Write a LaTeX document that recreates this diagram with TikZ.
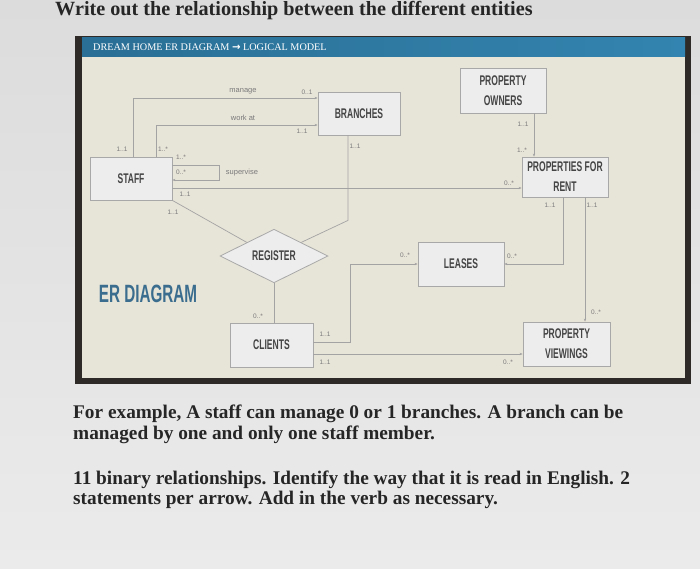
\documentclass[tikz,border=0pt]{standalone}
\usepackage{fontspec}
\setmainfont{Liberation Serif}
\newfontfamily\condfont[FakeStretch=0.61]{Liberation Sans}
\newfontfamily\labfont{Liberation Sans}
\newfontfamily\symfont{DejaVu Sans}
\usetikzlibrary{shapes.geometric,arrows.meta,calc}

\definecolor{pagetop}{HTML}{DCDCDC}
\definecolor{pagebottom}{HTML}{EBEBEB}
\definecolor{framedark}{HTML}{2E2A28}
\definecolor{slidebg}{HTML}{E7E4D8}
\definecolor{headleft}{HTML}{2A6F95}
\definecolor{headright}{HTML}{3384B0}
\definecolor{boxfill}{HTML}{EDEDEE}
\definecolor{boxline}{HTML}{A8A8A8}
\definecolor{enttext}{HTML}{444444}
\definecolor{relcolor}{HTML}{A3A3A3}
\definecolor{cardtext}{HTML}{7A7A7A}
\definecolor{erblue}{HTML}{3A6D8E}
\definecolor{bodytext}{HTML}{262626}

\tikzset{
  entitybox/.style={draw=boxline, fill=boxfill, line width=0.8pt, inner sep=0pt,
    align=center, text=enttext, font=\condfont\bfseries\fontsize{14}{20}\selectfont},
  registerbox/.style={entitybox, diamond, minimum width=108pt, minimum height=53pt},
  relline/.style={draw=relcolor, line width=0.7pt},
  tip/.style={-{Stealth[length=3pt,width=2.4pt]}},
  cardlabel/.style={inner sep=0pt, text=cardtext, font=\labfont\fontsize{6.5}{6.5}\selectfont},
  verblabel/.style={inner sep=0pt, text=cardtext, font=\labfont\fontsize{7.5}{7.5}\selectfont},
  bodyline/.style={anchor=base west, inner sep=0pt, text=bodytext, font=\bfseries\fontsize{19.3}{21}\selectfont}
}

\begin{document}
\begin{tikzpicture}[x=1pt,y=-1pt]
				\useasboundingbox (0,0) rectangle (700,568);
				\fill[top color=pagetop, bottom color=pagebottom] (0,0) rectangle (700,568);
				\node[bodyline, font=\bfseries\fontsize{20.2}{21}\selectfont] (title) at (55,15) {Write out the relationship between the different entities};

				\fill[framedark] (75,36) rectangle (691,384);
				\fill[slidebg] (82,37) rectangle (685,378);
				\fill[left color=headleft, right color=headright] (82,37) rectangle (685,56);
				\node[anchor=west, inner sep=0pt, text=white, font=\fontsize{10.2}{10.2}\selectfont] (header) at (93,47) {DREAM HOME ER DIAGRAM {\symfont\bfseries →} LOGICAL MODEL};
				\node[inner sep=0pt, text=erblue, font=\condfont\bfseries\fontsize{25}{25}\selectfont] (ertitle) at (148,294) {ER DIAGRAM};

				\node[entitybox, minimum width=82pt, minimum height=43pt] (staff) at (131,178.5) {STAFF};
				\node[entitybox, minimum width=82pt, minimum height=43pt] (branches) at (359,113.5) {BRANCHES};
				\node[entitybox, minimum width=86pt, minimum height=45pt] (owners) at (503,90.5) {PROPERTY\\OWNERS};
				\node[entitybox, minimum width=86pt, minimum height=40pt] (pfr) at (565,177) {PROPERTIES FOR\\RENT};
				\node[registerbox] (register) at (274,256) {REGISTER};
				\node[entitybox, minimum width=86pt, minimum height=44pt] (leases) at (461,264) {LEASES};
				\node[entitybox, minimum width=83pt, minimum height=44pt] (clients) at (271.5,345) {CLIENTS};
				\node[entitybox, minimum width=87pt, minimum height=44pt] (viewings) at (566.5,344) {PROPERTY\\VIEWINGS};

				\draw[relline, tip] ([xshift=2pt]staff.north) |- ([yshift=15.5pt]branches.west);
				\draw[relline, tip] ([xshift=25pt]staff.north) |- ([yshift=-11.5pt]branches.west);
				\draw[relline, tip] ([yshift=13.5pt]staff.east) -- ++(47,0) -- ++(0,15) -- ([yshift=-1.5pt]staff.east);
				\draw[relline, tip] ([yshift=-9.5pt]staff.east) coordinate (sp) -- (sp -| pfr.west);
				\draw[relline] (staff.south east) -- (register.north west);
				\draw[relline] ([xshift=-11pt]branches.south) -- ++(0,85) -- (register.north east);
				\draw[relline] (register.south) -- (register.south |- clients.north);
				\draw[relline, tip] ([yshift=3pt]clients.east) -- ++(37,0) |- (leases.west);
				\draw[relline, tip] ([yshift=-9pt]clients.east) coordinate (cv) -- (cv -| viewings.west);
				\draw[relline, tip] ([xshift=31pt]owners.south) coordinate (op) -- (op |- pfr.north);
				\draw[relline, tip] ([xshift=-2pt]pfr.south) |- (leases.east);
				\draw[relline, tip] ([xshift=20pt]pfr.south) coordinate (pv) -- (pv |- viewings.north);

				\node[verblabel] (managelbl) at (243,91) {manage};
				\node[verblabel] (worklbl) at (243,118) {work at};
				\node[verblabel] (supervlbl) at (242,173) {supervise};

				\node[cardlabel] (manstaff) at (122,149) {1..1};
				\node[cardlabel] (manbranch) at (307,92) {0..1};
				\node[cardlabel] (workstaff) at (163,149) {1..*};
				\node[cardlabel] (workbranch) at (302,131) {1..1};
				\node[cardlabel] (supone) at (181,157) {1..*};
				\node[cardlabel] (suptwo) at (181,172) {0..*};
				\node[cardlabel] (spstaff) at (185,194) {1..1};
				\node[cardlabel] (sppfr) at (509,183) {0..*};
				\node[cardlabel] (regstaff) at (173,212) {1..1};
				\node[cardlabel] (regbranch) at (355,146) {1..1};
				\node[cardlabel] (regclient) at (258,316) {0..*};
				\node[cardlabel] (clclient) at (325,334) {1..1};
				\node[cardlabel] (cllease) at (405,255) {0..*};
				\node[cardlabel] (cvclient) at (325,362) {1..1};
				\node[cardlabel] (cvview) at (508,362) {0..*};
				\node[cardlabel] (opowner) at (523,124) {1..1};
				\node[cardlabel] (oppfr) at (522,150) {1..*};
				\node[cardlabel] (plpfr) at (550,205) {1..1};
				\node[cardlabel] (pllease) at (512,256) {0..*};
				\node[cardlabel] (pvpfr) at (592,205) {1..1};
				\node[cardlabel] (pvview) at (596,312) {0..*};

				\node[bodyline] (bodya) at (73,418) {For example, A staff can manage 0 or 1 branches. A branch can be};
				\node[bodyline] (bodyb) at (73,439) {managed by one and only one staff member.};
				\node[bodyline] (bodyc) at (73,484) {11 binary relationships. Identify the way that it is read in English. 2};
				\node[bodyline] (bodyd) at (73,504) {statements per arrow. Add in the verb as necessary.};
			\end{tikzpicture}
\end{document}
